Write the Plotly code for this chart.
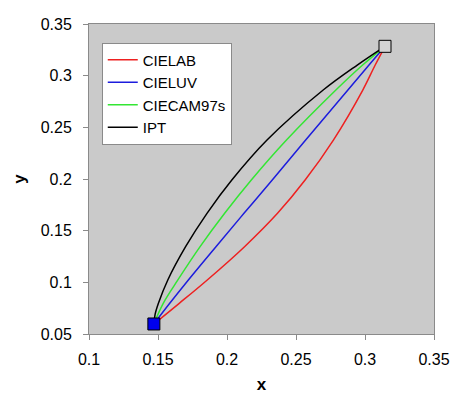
import plotly.graph_objects as go

# Data
series_names = ["CIELAB", "CIELUV", "CIECAM97s", "IPT"]
series_colors = ["#ee2020", "#1c1cdd", "#33e633", "#000000"]

row_y = [0.0597, 0.0797, 0.1023, 0.1345, 0.1668, 0.1990, 0.2377, 0.2861, 0.3103, 0.3284]

lab_x = [0.1470, 0.1654, 0.1857, 0.2127, 0.2366, 0.2566, 0.2771, 0.2984, 0.3074, 0.3145]
lab_y = row_y

luv_x = [0.1470, 0.1585, 0.1720, 0.1920, 0.2123, 0.2328, 0.2570, 0.2876, 0.3029, 0.3145]
luv_y = row_y

cam_x = [0.1470, 0.1538, 0.1644, 0.1805, 0.1983, 0.2176, 0.2431, 0.2789, 0.2983, 0.3145]
cam_y = row_y

ipt_x = [0.1470, 0.1479, 0.1503, 0.1571, 0.1700, 0.1855, 0.2035, 0.2290, 0.2697, 0.2944, 0.3145]
ipt_y = [0.0597, 0.0690, 0.0797, 0.1023, 0.1345, 0.1668, 0.1990, 0.2377, 0.2861, 0.3103, 0.3284]

start_point = [0.1470, 0.0597]
end_point = [0.3145, 0.3284]

x_ticks = [0.1, 0.15, 0.2, 0.25, 0.3, 0.35]
x_tick_labels = ["0.1", "0.15", "0.2", "0.25", "0.3", "0.35"]
y_ticks = [0.05, 0.1, 0.15, 0.2, 0.25, 0.3, 0.35]
y_tick_labels = ["0.05", "0.1", "0.15", "0.2", "0.25", "0.3", "0.35"]

FONT = "Arial, Liberation Sans, sans-serif"

fig = go.Figure()
all_x = [lab_x, luv_x, cam_x, ipt_x]
all_y = [lab_y, luv_y, cam_y, ipt_y]
for name, col, xs, ys in zip(series_names, series_colors, all_x, all_y):
    fig.add_trace(go.Scatter(x=xs, y=ys, mode="lines", name=name,
                             line=dict(color=col, width=1.5, shape="spline", smoothing=1.0)))

fig.add_trace(go.Scatter(x=[start_point[0]], y=[start_point[1]], mode="markers", showlegend=False,
                         marker=dict(symbol="square", size=12, color="#0000ee",
                                     line=dict(color="#000000", width=1))))
fig.add_trace(go.Scatter(x=[end_point[0]], y=[end_point[1]], mode="markers", showlegend=False,
                         marker=dict(symbol="square", size=12, color="#d4d4d4",
                                     line=dict(color="#000000", width=1))))

axis_common = dict(showgrid=False, zeroline=False, showline=True, mirror=True,
                   linecolor="#8a8a8a", linewidth=1, ticks="outside", ticklen=5,
                   tickcolor="#8a8a8a", tickfont=dict(family=FONT, size=16, color="#000"))

fig.update_layout(
    width=474, height=401,
    margin=dict(l=89, r=40, t=24, b=67),
    paper_bgcolor="white", plot_bgcolor="#cacaca",
    font=dict(family=FONT, color="#000"),
    xaxis=dict(range=[0.1, 0.35], tickvals=x_ticks, ticktext=x_tick_labels,
               ticklabelstandoff=6,
               title=dict(text="<b>x</b>", font=dict(family=FONT, size=17), standoff=10),
               **axis_common),
    yaxis=dict(range=[0.05, 0.35], tickvals=y_ticks, ticktext=y_tick_labels,
               ticklabelstandoff=8,
               title=dict(text="<b>y</b>", font=dict(family=FONT, size=17), standoff=10),
               **axis_common),
    legend=dict(x=0.037, y=0.940, xanchor="left", yanchor="top",
                bgcolor="white", bordercolor="#8a8a8a", borderwidth=1,
                font=dict(family=FONT, size=15), tracegroupgap=0),
    showlegend=True,
)

fig.write_html("out.html")
